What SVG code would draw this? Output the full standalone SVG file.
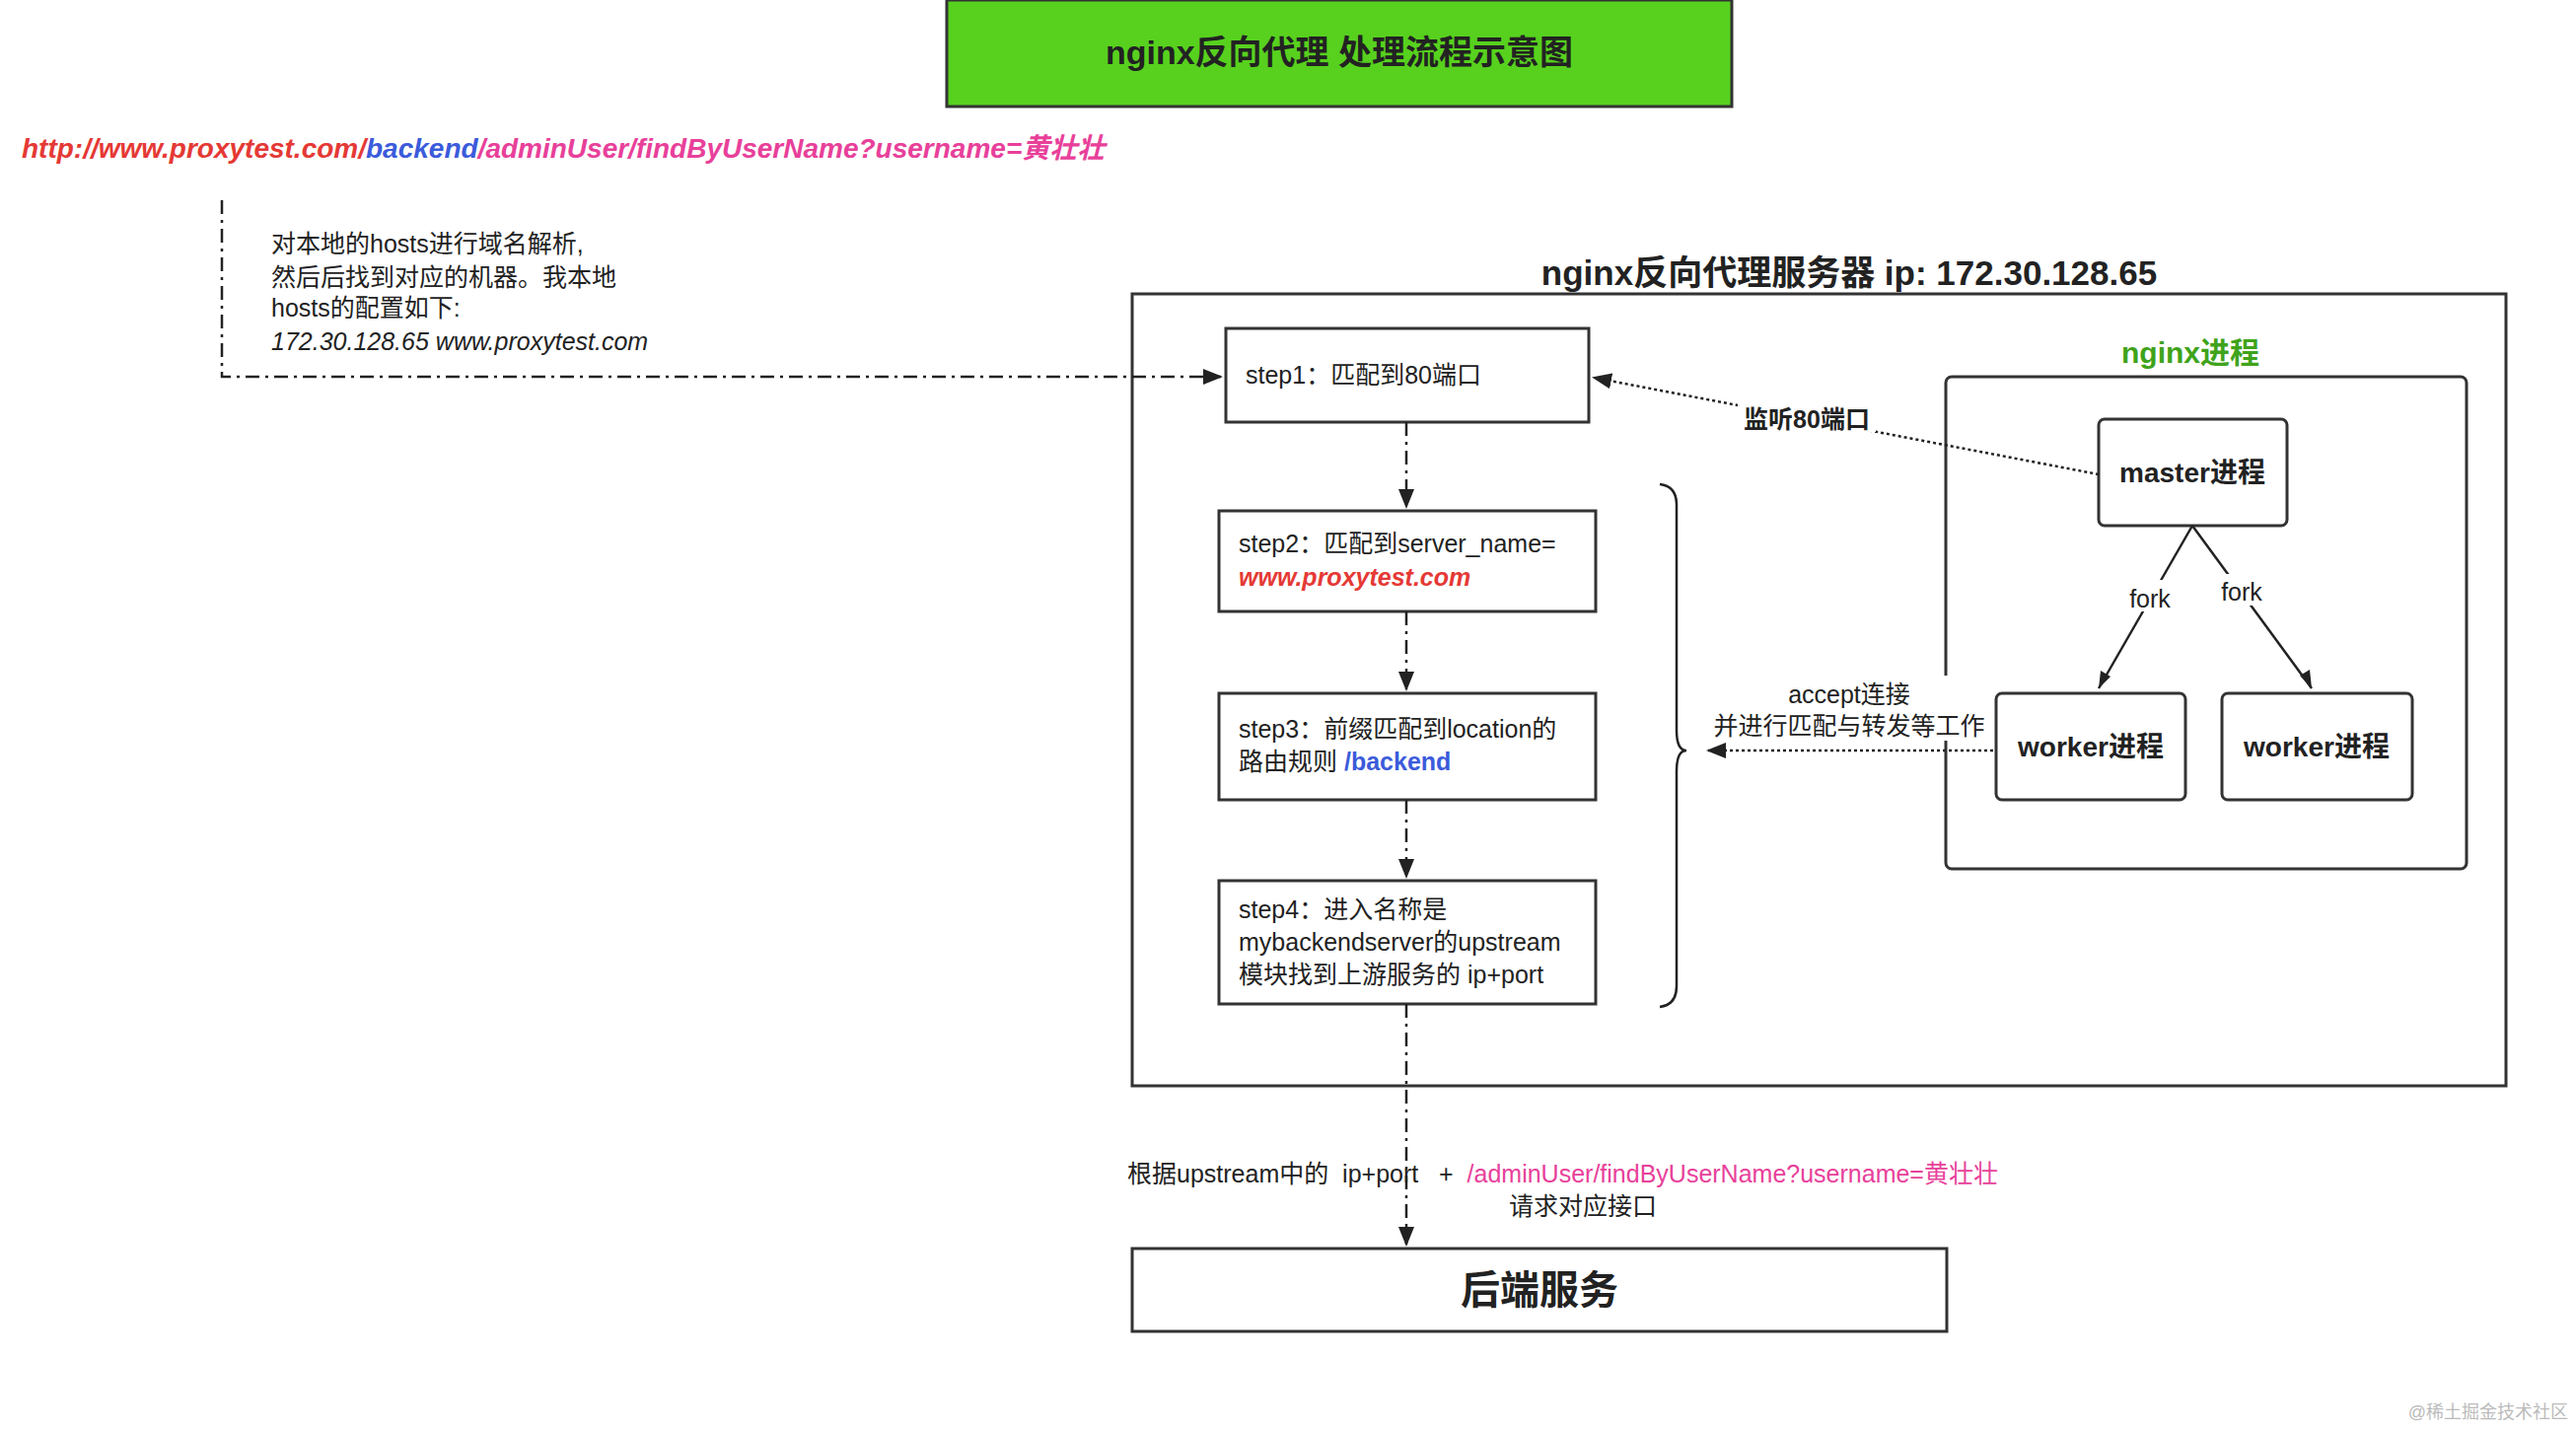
<svg xmlns="http://www.w3.org/2000/svg" width="2612" height="1450" viewBox="0 0 2612 1450">
<style>
text{font-family:"Liberation Sans","Noto Sans CJK SC",sans-serif;fill:#222}
.box{fill:#fff;stroke:#333;stroke-width:3}
.t{font-size:25px}
.b{font-weight:bold}
.dash{stroke:#222;stroke-width:2.5;fill:none;stroke-dasharray:14 6 3 6}
.dot{stroke:#222;stroke-width:2.5;fill:none;stroke-dasharray:3 3}
</style>
<defs>
<marker id="ah" markerWidth="10" markerHeight="10" refX="9" refY="5" orient="auto" markerUnits="userSpaceOnUse" viewBox="0 0 10 10"><path d="M0,0 L10,5 L0,10 z" fill="#222"/></marker>
<marker id="a2" markerWidth="20" markerHeight="20" refX="18" refY="8" orient="auto" markerUnits="userSpaceOnUse" viewBox="0 0 20 16"><path d="M0,0 L20,8 L0,16 z" fill="#222"/></marker>
</defs>
<rect width="2612" height="1450" fill="#fff"/>
<g id="title"><rect x="960" y="0" width="796" height="108" fill="#57d11e" stroke="#333" stroke-width="3"/><text x="1358" y="65" font-size="34" text-anchor="middle" class="b">nginx反向代理 处理流程示意图</text></g>
<g id="url"><text x="22" y="160" font-size="28" font-style="italic" class="b"><tspan fill="#e53935">http://www.proxytest.com/</tspan><tspan fill="#3b5bdb">backend</tspan><tspan fill="#e8409a">/adminUser/findByUserName?username=黄壮壮</tspan></text></g>
<g id="note" class="t"><text x="275" y="256">对本地的hosts进行域名解析,</text><text x="275" y="290">然后后找到对应的机器。我本地</text><text x="275" y="321">hosts的配置如下:</text><text x="275" y="355" font-style="italic">172.30.128.65 www.proxytest.com</text></g>
<g id="server"><rect x="1148" y="298" width="1393" height="803" fill="none" stroke="#333" stroke-width="3"/><text x="1875" y="289" font-size="35" text-anchor="middle" class="b">nginx反向代理服务器 ip: 172.30.128.65</text></g>
<g id="step1"><rect class="box" x="1243" y="333" width="368" height="95"/><text class="t" x="1263" y="389">step1：匹配到80端口</text></g>
<g id="step2"><rect class="box" x="1236" y="518" width="382" height="102"/><text class="t" x="1256" y="560">step2：匹配到server_name=</text><text class="t b" x="1256" y="594" fill="#e53935" font-style="italic" style="fill:#e53935">www.proxytest.com</text></g>
<g id="step3"><rect class="box" x="1236" y="703" width="382" height="108"/><text class="t" x="1256" y="748">step3：前缀匹配到location的</text><text class="t" x="1256" y="781">路由规则 <tspan class="b" style="fill:#3b5bdb">/backend</tspan></text></g>
<g id="step4"><rect class="box" x="1236" y="893" width="382" height="125"/><text class="t" x="1256" y="931">step4：进入名称是</text><text class="t" x="1256" y="964">mybackendserver的upstream</text><text class="t" x="1256" y="997">模块找到上游服务的 ip+port</text></g>
<g id="nginx"><rect x="1973" y="382" width="528" height="499" rx="6" fill="none" stroke="#333" stroke-width="3"/><text x="2221" y="368" font-size="30" text-anchor="middle" class="b" style="fill:#3fa31b">nginx进程</text></g>
<g id="master"><rect class="box" x="2128" y="425" width="191" height="108" rx="6"/><text x="2223" y="489" font-size="28" text-anchor="middle" class="b">master进程</text></g>
<g id="worker1"><rect class="box" x="2024" y="703" width="192" height="108" rx="6"/><text x="2120" y="767" font-size="28" text-anchor="middle" class="b">worker进程</text></g>
<g id="worker2"><rect class="box" x="2253" y="703" width="193" height="108" rx="6"/><text x="2349" y="767" font-size="28" text-anchor="middle" class="b">worker进程</text></g>
<g id="backend"><rect class="box" x="1148" y="1266" width="826" height="84"/><text x="1561" y="1322" font-size="40" text-anchor="middle" class="b">后端服务</text></g>
<g id="connectors">
<path class="dash" d="M225,203 V382 H1238" marker-end="url(#a2)"/>
<path class="dash" d="M1426,428 V514" marker-end="url(#a2)"/>
<path class="dash" d="M1426,620 V699" marker-end="url(#a2)"/>
<path class="dash" d="M1426,811 V889" marker-end="url(#a2)"/>
<path class="dash" d="M1426,1018 V1262" marker-end="url(#a2)"/>
<path class="dot" d="M2128,481 L1616,383" marker-end="url(#a2)"/>
<path class="dot" d="M2021,761 H1732" marker-end="url(#a2)"/>
<path stroke="#222" stroke-width="2.5" fill="none" d="M2223,533 L2128,698"/>
<path stroke="#222" stroke-width="2.5" fill="none" d="M2223,533 L2344,698"/>
<path d="M2128,698 l2,-18 l10,6 z M2344,698 l-12,-13 l10,-6 z" fill="#222"/>
<path stroke="#222" stroke-width="2.5" fill="none" d="M1683,491 Q1700,493 1700,512 V740 Q1700,761 1710,761 Q1700,761 1700,782 V1000 Q1700,1019 1683,1021"/>
</g>
<g id="labels">
<rect x="1762" y="406" width="140" height="32" fill="#fff"/><text x="1832" y="434" font-size="25" text-anchor="middle" class="b">监听80端口</text>
<rect x="2152" y="588" width="56" height="32" fill="#fff"/><text x="2180" y="616" font-size="25" text-anchor="middle">fork</text>
<rect x="2245" y="582" width="56" height="32" fill="#fff"/><text x="2273" y="609" font-size="25" text-anchor="middle">fork</text>
<rect x="1728" y="685" width="293" height="66" fill="#fff"/>
<text x="1875" y="713" class="t" text-anchor="middle">accept连接</text><text x="1875" y="745" class="t" text-anchor="middle">并进行匹配与转发等工作</text>
<text x="1143" y="1199" class="t" xml:space="preserve">根据upstream中的  ip+port   +  <tspan style="fill:#e8409a">/adminUser/findByUserName?username=黄壮壮</tspan></text>
<text x="1530" y="1232" class="t">请求对应接口</text>
<text x="2604" y="1438" font-size="18" text-anchor="end" style="fill:#bbb">@稀土掘金技术社区</text>
</g>
</svg>
